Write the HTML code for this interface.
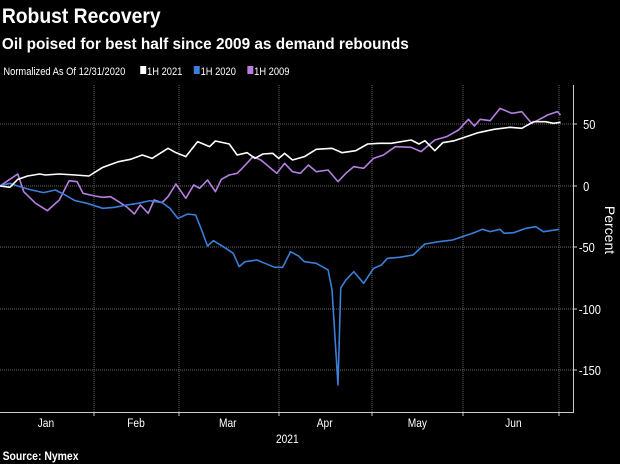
<!DOCTYPE html>
<html><head><meta charset="utf-8"><style>
body{margin:0;background:#000;width:620px;height:464px;overflow:hidden}
svg{display:block}
text{font-family:"Liberation Sans",sans-serif;fill:#fff}
</style></head><body>
<svg width="620" height="464" viewBox="0 0 620 464">
<rect width="620" height="464" fill="#000"/>
<text x="2" y="23" font-size="21" font-weight="bold" transform="scale(0.92,1)">Robust Recovery</text>
<text x="2" y="49" font-size="16" font-weight="bold" transform="scale(0.96,1)">Oil poised for best half since 2009 as demand rebounds</text>
<g font-size="11" transform="scale(0.85,1)">
<text x="4" y="75">Normalized As Of 12/31/2020</text>
<rect x="165" y="66" width="7" height="8" fill="#fff"/><text x="173" y="75">1H 2021</text>
<rect x="228" y="66" width="7" height="8" fill="#3b7fd9"/><text x="236" y="75">1H 2020</text>
<rect x="291" y="66" width="7" height="8" fill="#b57fe0"/><text x="299" y="75">1H 2009</text>
</g>
<g stroke="#666" stroke-width="1" stroke-dasharray="1,1">
<line x1="0" x2="573" y1="124" y2="124"/><line x1="0" x2="573" y1="186" y2="186"/>
<line x1="0" x2="573" y1="247" y2="247"/><line x1="0" x2="573" y1="309" y2="309"/>
<line x1="0" x2="573" y1="370" y2="370"/>
<line x1="94" x2="94" y1="85" y2="412"/><line x1="179" x2="179" y1="85" y2="412"/>
<line x1="279" x2="279" y1="85" y2="412"/><line x1="372" x2="372" y1="85" y2="412"/>
<line x1="463" x2="463" y1="85" y2="412"/><line x1="559" x2="559" y1="85" y2="412"/>
</g>
<g stroke="#ccc" stroke-width="1">
<line x1="0" x2="574" y1="412.5" y2="412.5"/><line x1="573.5" x2="573.5" y1="85" y2="413"/>
<line x1="573" x2="577" y1="124" y2="124"/><line x1="573" x2="577" y1="186" y2="186"/>
<line x1="573" x2="577" y1="247" y2="247"/><line x1="573" x2="577" y1="309" y2="309"/>
<line x1="573" x2="577" y1="370" y2="370"/>
<line x1="94" x2="94" y1="412" y2="416"/><line x1="179" x2="179" y1="412" y2="416"/>
<line x1="279" x2="279" y1="412" y2="416"/><line x1="372" x2="372" y1="412" y2="416"/>
<line x1="463" x2="463" y1="412" y2="416"/><line x1="559" x2="559" y1="412" y2="416"/>
</g>
<g font-size="13" transform="scale(0.85,1)">
<text x="686" y="129">50</text><text x="686" y="191">0</text>
<text x="681" y="252">-50</text><text x="681" y="314">-100</text><text x="681" y="375">-150</text>
</g>
<g font-size="12" text-anchor="middle" transform="scale(0.85,1)">
<text x="54" y="427">Jan</text><text x="160" y="427">Feb</text><text x="268" y="427">Mar</text>
<text x="382" y="427">Apr</text><text x="491" y="427">May</text><text x="604" y="427">Jun</text>
<text x="338" y="443">2021</text>
</g>
<text x="3" y="460" font-size="12" font-weight="bold" transform="scale(0.87,1)">Source: Nymex</text>
<text font-size="14" transform="translate(605,230) rotate(90)" text-anchor="middle" dy="0">Percent</text>
<g transform="translate(0,90) scale(0.3953,0.3333)" fill="none" stroke-width="1.6" stroke-linejoin="round">
<polyline vector-effect="non-scaling-stroke" stroke="#b57fe0" points="0,288 25,268 45,252 60,305 90,340 120,362 150,330 175,272 195,275 210,310 240,318 260,322 280,320 300,335 320,350 340,372 355,345 375,370 390,330 410,338 425,320 445,282 470,325 490,285 505,295 525,270 545,305 560,268 580,255 600,250 615,232 640,200 660,210 680,230 700,250 720,220 740,245 760,250 780,225 800,245 830,240 855,275 875,250 895,230 920,235 945,205 970,195 1000,170 1040,172 1065,185 1100,150 1130,140 1160,120 1185,88 1200,108 1215,88 1240,92 1265,55 1295,70 1320,65 1345,100 1370,85 1385,75 1410,65 1418,75"/>
<polyline vector-effect="non-scaling-stroke" stroke="#3b7fd9" points="0,288 25,280 50,290 80,300 110,308 140,300 160,312 190,332 220,340 260,355 290,352 320,345 350,340 380,332 410,338 430,355 450,385 475,372 495,375 510,420 525,468 540,452 565,470 590,490 605,530 620,515 650,510 670,520 695,532 715,532 735,485 755,498 770,515 800,520 830,540 840,600 855,885 862,594 875,570 895,545 920,580 945,535 965,525 980,505 1010,502 1045,495 1075,462 1110,455 1145,450 1170,440 1200,428 1220,418 1240,425 1265,418 1275,430 1300,428 1330,415 1355,410 1375,425 1415,418"/>
<polyline vector-effect="non-scaling-stroke" stroke="#fff" points="0,288 25,292 45,268 70,258 100,252 115,255 150,252 190,255 225,258 260,232 300,215 330,208 360,195 385,205 425,175 445,188 470,200 500,155 530,170 545,153 580,162 600,195 625,188 645,205 665,192 690,190 705,205 720,190 740,210 770,200 800,178 840,175 865,188 900,182 930,162 960,160 990,160 1040,150 1060,162 1075,152 1100,182 1120,158 1150,152 1180,140 1210,128 1250,118 1290,112 1320,115 1350,95 1380,95 1400,100 1418,97"/>
</g>
</svg>
</body></html>
